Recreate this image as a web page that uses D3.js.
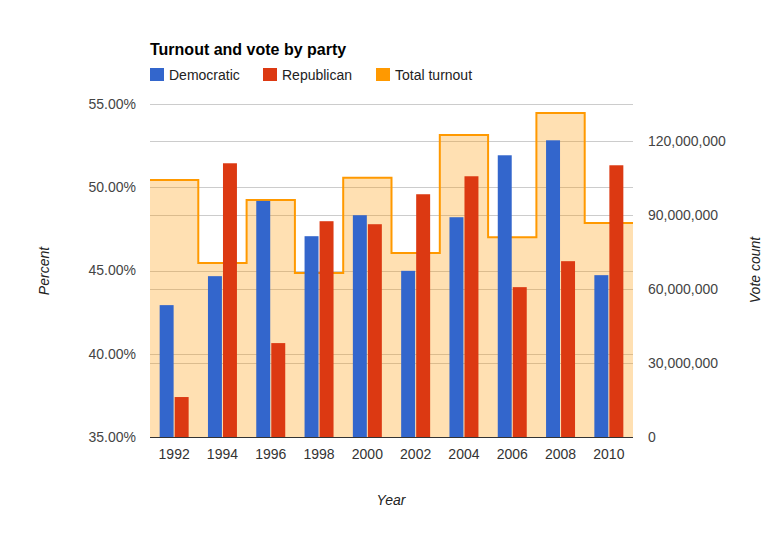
<!DOCTYPE html>
<html>
<head>
<meta charset="utf-8">
<script src="https://cdn.jsdelivr.net/npm/d3@7"></script>
<style>
  body { margin: 0; background: #fff; }
  text { font-family: Arial, "Liberation Sans", sans-serif; }
</style>
</head>
<body>
<svg id="svg1" width="783" height="541"></svg>
<script>
// data
var years = ['1992', '1994', '1996', '1998', '2000', '2002', '2004', '2006', '2008', '2010'];
var democratic = [42.92, 44.66, 49.18, 47.06, 48.32, 44.98, 48.2, 51.92, 52.82, 44.72];
var republican = [37.4, 51.44, 40.64, 47.96, 47.78, 49.58, 50.66, 44.0, 45.56, 51.32];
var turnout = [104200000, 70500000, 96100000, 66500000, 105100000, 74600000, 122400000, 81000000, 131400000, 86800000];
var leftTicks = [35, 40, 45, 50, 55];
var rightTicks = [0, 30000000, 60000000, 90000000, 120000000];

var series = [
  {name: 'Democratic', color: '#3366cc'},
  {name: 'Republican', color: '#dc3912'},
  {name: 'Total turnout', color: '#ff9900'}
];

var svg = d3.select('#svg1');

var plotLeft = 150, plotRight = 633, plotTop = 104, plotBottom = 437;

var x0 = d3.scaleBand().domain(years).range([plotLeft, plotRight]).paddingInner(0.4).paddingOuter(0.2);
var x1 = d3.scaleBand().domain(['dem', 'rep']).range([0, x0.bandwidth()]).paddingInner(0.07);
var xs = d3.scaleBand().domain(years).range([plotLeft, plotRight]).padding(0);

var yL = d3.scaleLinear().domain([35, 55]).range([plotBottom, plotTop]);
var yR = d3.scaleLinear().domain([0, 135000000]).range([plotBottom, plotTop]);

// gridlines for both axes
svg.append('g').selectAll('line')
  .data(leftTicks.map(function(d){ return yL(d); }).concat(rightTicks.map(function(d){ return yR(d); })))
  .enter().append('line')
  .attr('x1', plotLeft).attr('x2', plotRight)
  .attr('y1', function(d){ return Math.round(d) + 0.5; })
  .attr('y2', function(d){ return Math.round(d) + 0.5; })
  .attr('stroke', '#cccccc');

// stepped area for turnout
var stepPts = [];
years.forEach(function(y, i){
  stepPts.push([xs(y), yR(turnout[i])]);
  stepPts.push([xs(y) + xs.bandwidth(), yR(turnout[i])]);
});

var area = d3.area().x(function(d){ return d[0]; }).y0(yR(0)).y1(function(d){ return d[1]; });
svg.append('path').datum(stepPts)
  .attr('d', area)
  .attr('fill', '#ff9900')
  .attr('fill-opacity', 0.3);

var line = d3.line().x(function(d){ return d[0]; }).y(function(d){ return d[1]; });
svg.append('path').datum(stepPts)
  .attr('d', line)
  .attr('fill', 'none')
  .attr('stroke', '#ff9900')
  .attr('stroke-width', 2);

// bars
var groups = svg.append('g').selectAll('g')
  .data(years)
  .enter().append('g')
  .attr('transform', function(d){ return 'translate(' + x0(d) + ',0)'; });

groups.append('rect')
  .attr('x', x1('dem'))
  .attr('width', x1.bandwidth())
  .attr('y', function(d, i){ return yL(democratic[i]); })
  .attr('height', function(d, i){ return yL(35) - yL(democratic[i]); })
  .attr('fill', '#3366cc');

groups.append('rect')
  .attr('x', x1('rep'))
  .attr('width', x1.bandwidth())
  .attr('y', function(d, i){ return yL(republican[i]); })
  .attr('height', function(d, i){ return yL(35) - yL(republican[i]); })
  .attr('fill', '#dc3912');

// baseline
svg.append('line')
  .attr('x1', plotLeft).attr('x2', plotRight)
  .attr('y1', plotBottom + 0.5).attr('y2', plotBottom + 0.5)
  .attr('stroke', '#333333');

// axes
var leftAxis = d3.axisLeft(yL).tickValues(leftTicks).tickSize(0).tickPadding(0)
  .tickFormat(function(d){ return d3.format('.2f')(d) + '%'; });
svg.append('g').attr('transform', 'translate(136,0)').call(leftAxis)
  .call(function(g){ g.select('.domain').remove(); })
  .selectAll('text').attr('font-size', 14).attr('fill', '#444').attr('font-family', 'Arial, "Liberation Sans", sans-serif');

var rightAxis = d3.axisRight(yR).tickValues(rightTicks).tickSize(0).tickPadding(0)
  .tickFormat(d3.format(','));
svg.append('g').attr('transform', 'translate(648,0)').call(rightAxis)
  .call(function(g){ g.select('.domain').remove(); })
  .selectAll('text').attr('font-size', 14).attr('fill', '#444').attr('font-family', 'Arial, "Liberation Sans", sans-serif');

var bottomAxis = d3.axisBottom(xs).tickSize(0).tickPadding(0);
svg.append('g').attr('transform', 'translate(0,449)').call(bottomAxis)
  .call(function(g){ g.select('.domain').remove(); })
  .selectAll('text').attr('font-size', 14).attr('fill', '#333').attr('font-family', 'Arial, "Liberation Sans", sans-serif');

// axis titles
svg.append('text').attr('x', 391).attr('y', 505).attr('text-anchor', 'middle')
  .attr('font-size', 14).attr('font-style', 'italic').attr('fill', '#222').text('Year');
svg.append('text').attr('transform', 'translate(49,271) rotate(-90)').attr('text-anchor', 'middle')
  .attr('font-size', 14).attr('font-style', 'italic').attr('fill', '#222').text('Percent');
svg.append('text').attr('transform', 'translate(760,270) rotate(-90)').attr('text-anchor', 'middle')
  .attr('font-size', 14).attr('font-style', 'italic').attr('fill', '#222').text('Vote count');

// title
svg.append('text').attr('x', 150).attr('y', 55)
  .attr('font-size', 16).attr('font-weight', 'bold').attr('fill', '#000')
  .text('Turnout and vote by party');

// legend
var legendX = [150, 263, 376];
var leg = svg.append('g').selectAll('g')
  .data(series)
  .enter().append('g')
  .attr('transform', function(d, i){ return 'translate(' + legendX[i] + ',68)'; });
leg.append('rect').attr('width', 14).attr('height', 13).attr('fill', function(d){ return d.color; });
leg.append('text').attr('x', 19).attr('y', 12).attr('font-size', 14).attr('fill', '#222')
  .text(function(d){ return d.name; });
</script>
</body>
</html>
